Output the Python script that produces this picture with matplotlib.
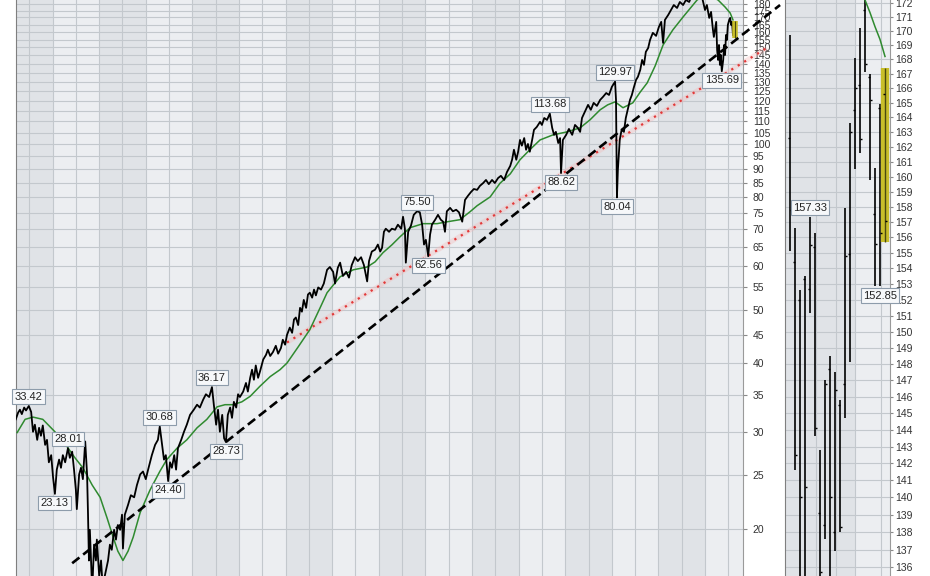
import matplotlib
matplotlib.use("Agg")
import matplotlib.pyplot as plt
import numpy as np

plt.rcParams["font.family"] = ["Liberation Sans", "DejaVu Sans"]

# ---- long-term panel: price path (decimal year, price) ----
price_t = [2007.21, 2007.26, 2007.30, 2007.34, 2007.39, 2007.43, 2007.49, 2007.54, 2007.58, 2007.62,
           2007.67, 2007.71, 2007.75, 2007.79, 2007.84, 2007.88, 2007.92, 2007.97, 2008.01, 2008.05,
           2008.09, 2008.14, 2008.18, 2008.22, 2008.27, 2008.33, 2008.37, 2008.42, 2008.46, 2008.50,
           2008.52, 2008.57, 2008.61, 2008.65, 2008.70, 2008.74, 2008.76, 2008.78, 2008.80, 2008.85,
           2008.89, 2008.93, 2008.95, 2009.00, 2009.04, 2009.08, 2009.12, 2009.19, 2009.23, 2009.27,
           2009.32, 2009.36, 2009.40, 2009.45, 2009.49, 2009.51, 2009.55, 2009.62, 2009.68, 2009.75,
           2009.81, 2009.88, 2009.94, 2010.00, 2010.05, 2010.13, 2010.20, 2010.26, 2010.30, 2010.35,
           2010.39, 2010.43, 2010.48, 2010.52, 2010.56, 2010.61, 2010.65, 2010.69, 2010.76, 2010.82,
           2010.88, 2010.95, 2011.03, 2011.10, 2011.16, 2011.23, 2011.29, 2011.36, 2011.42, 2011.46,
           2011.51, 2011.55, 2011.59, 2011.64, 2011.68, 2011.72, 2011.76, 2011.81, 2011.85, 2011.89,
           2011.94, 2011.98, 2012.02, 2012.09, 2012.15, 2012.19, 2012.24, 2012.28, 2012.32, 2012.36,
           2012.41, 2012.45, 2012.52, 2012.58, 2012.62, 2012.67, 2012.73, 2012.79, 2012.84, 2012.90,
           2012.94, 2012.99, 2013.03, 2013.09, 2013.14, 2013.18, 2013.22, 2013.27, 2013.31, 2013.35,
           2013.39, 2013.44, 2013.48, 2013.52, 2013.57, 2013.61, 2013.65, 2013.70, 2013.76, 2013.82,
           2013.89, 2013.95, 2014.02, 2014.06, 2014.12, 2014.17, 2014.23, 2014.30, 2014.36, 2014.42,
           2014.49, 2014.55, 2014.62, 2014.68, 2014.75, 2014.79, 2014.85, 2014.92, 2014.98, 2015.03,
           2015.07, 2015.11, 2015.15, 2015.22, 2015.28, 2015.35, 2015.41, 2015.48, 2015.52, 2015.56,
           2015.58, 2015.63, 2015.69, 2015.75, 2015.82, 2015.88, 2015.93, 2015.97, 2016.01, 2016.06,
           2016.10, 2016.14, 2016.21, 2016.27, 2016.33, 2016.38, 2016.42, 2016.46, 2016.53, 2016.59,
           2016.66, 2016.72, 2016.79, 2016.85, 2016.91, 2016.98, 2017.04, 2017.11, 2017.17, 2017.24,
           2017.30, 2017.36, 2017.43, 2017.49, 2017.56, 2017.62, 2017.69, 2017.75, 2017.82, 2017.86,
           2017.90, 2017.95, 2017.99, 2018.03, 2018.07, 2018.12, 2018.16, 2018.20, 2018.24, 2018.29,
           2018.33, 2018.39, 2018.46, 2018.50, 2018.55, 2018.61, 2018.67, 2018.72, 2018.76, 2018.80,
           2018.85, 2018.89, 2018.91, 2018.95, 2019.02, 2019.08, 2019.15, 2019.21, 2019.27, 2019.32,
           2019.36, 2019.42, 2019.49, 2019.55, 2019.61, 2019.68, 2019.75, 2019.81, 2019.88, 2019.94,
           2020.00, 2020.07, 2020.09, 2020.11, 2020.13, 2020.17, 2020.21, 2020.26, 2020.30, 2020.34,
           2020.39, 2020.43, 2020.47, 2020.52, 2020.56, 2020.61, 2020.65, 2020.69, 2020.73, 2020.78,
           2020.82, 2020.88, 2020.95, 2021.01, 2021.06, 2021.10, 2021.14, 2021.21, 2021.27, 2021.33,
           2021.40, 2021.46, 2021.53, 2021.59, 2021.66, 2021.72, 2021.79, 2021.85, 2021.91, 2021.96,
           2022.00, 2022.04, 2022.09, 2022.13, 2022.17, 2022.19, 2022.24, 2022.26, 2022.28, 2022.30,
           2022.32, 2022.34, 2022.36, 2022.39, 2022.41, 2022.43, 2022.45, 2022.47, 2022.49, 2022.52,
           2022.54, 2022.56, 2022.58, 2022.60]
price_v = [31.6, 32.5, 32.9, 32.3, 33.2, 32.8, 33.42, 32.6, 30.0, 30.9,
           29.0, 30.5, 29.5, 30.8, 28.4, 29.0, 26.4, 27.2, 24.8, 23.13,
           25.6, 26.7, 25.8, 27.2, 26.4, 28.01, 26.9, 27.6, 25.6, 23.5,
           21.7, 25.1, 25.8, 24.6, 28.8, 25.1, 21.3, 17.5, 19.9, 15.4,
           18.7, 17.5, 19.1, 16.4, 17.5, 15.4, 16.4, 17.5, 18.7, 18.3,
           19.9, 19.1, 20.3, 19.9, 21.2, 18.4, 21.2, 22.1, 23.0, 22.8,
           24.0, 25.1, 25.4, 24.6, 25.6, 27.2, 28.4, 29.0, 30.68, 28.4,
           26.7, 27.2, 24.40, 26.4, 25.8, 27.2, 25.6, 28.0, 29.0, 30.0,
           30.9, 32.2, 32.9, 33.6, 33.2, 34.3, 35.1, 34.7, 36.17, 33.6,
           30.9, 32.9, 30.0, 32.2, 29.2, 28.73, 32.2, 33.2, 31.8, 34.0,
           33.2, 35.1, 34.7, 35.5, 36.8, 35.5, 37.6, 38.9, 37.3, 39.6,
           37.6, 38.6, 40.6, 41.4, 42.3, 41.2, 41.9, 43.0, 41.6, 42.6,
           44.1, 43.2, 45.0, 46.4, 45.4, 48.0, 48.4, 46.9, 50.4, 49.6,
           52.1, 50.4, 53.3, 53.7, 52.6, 54.4, 53.1, 54.9, 54.4, 55.8,
           59.1, 59.8, 58.6, 55.8, 59.6, 60.9, 57.6, 58.6, 57.2, 60.3,
           62.3, 61.3, 62.3, 60.3, 56.3, 61.3, 63.8, 64.3, 65.7, 63.8,
           64.8, 69.3, 70.2, 69.3, 70.2, 69.9, 71.4, 70.2, 73.8, 70.2,
           60.9, 69.3, 71.1, 74.4, 75.50, 75.2, 71.4, 65.7, 67.0, 62.56,
           68.5, 71.4, 72.9, 74.4, 72.9, 72.3, 69.3, 75.5, 76.6, 75.5,
           76.0, 75.2, 72.3, 79.2, 80.5, 81.9, 82.9, 82.6, 84.0, 85.0,
           86.1, 84.6, 86.1, 85.0, 86.8, 87.6, 86.1, 89.0, 91.3, 93.7,
           97.7, 93.7, 96.9, 101.8, 99.4, 102.6, 97.7, 100.1, 96.9, 101.8,
           106.2, 107.5, 109.8, 108.4, 111.6, 110.7, 113.68, 107.1, 104.0, 105.3,
           100.5, 102.6, 88.62, 101.8, 104.0, 106.6, 104.0, 108.4, 107.1, 105.3,
           111.6, 114.5, 117.9, 115.5, 118.9, 117.4, 120.4, 121.9, 123.9, 122.9,
           127.1, 129.97, 120.4, 80.04, 89.8, 101.8, 106.2, 105.3, 111.6, 115.5,
           120.4, 122.9, 126.6, 130.9, 132.6, 136.5, 142.3, 139.4, 147.2, 149.6,
           154.7, 159.4, 157.4, 163.4, 166.9, 152.8, 168.3, 171.8, 175.4, 179.1,
           176.9, 181.4, 179.1, 182.9, 181.4, 186.8, 190.7, 186.8, 189.1, 181.4,
           175.4, 179.1, 169.7, 174.0, 161.4, 156.7, 166.9, 148.4, 142.3, 151.5,
           139.4, 145.3, 135.69, 142.3, 151.5, 145.3, 158.0, 154.7, 164.8, 168.3,
           169.7, 164.8, 166.9, 158.0]

# moving average
ma_t = [2007.24, 2007.41, 2007.58, 2007.79, 2008.05, 2008.31, 2008.48, 2008.65, 2008.85, 2009.02,
        2009.17, 2009.30, 2009.40, 2009.51, 2009.62, 2009.73, 2009.88, 2010.09, 2010.30, 2010.45,
        2010.67, 2010.88, 2011.10, 2011.31, 2011.53, 2011.70, 2011.87, 2012.06, 2012.24, 2012.45,
        2012.67, 2012.88, 2013.03, 2013.27, 2013.52, 2013.74, 2013.89, 2014.02, 2014.17, 2014.45,
        2014.75, 2014.92, 2015.09, 2015.28, 2015.45, 2015.67, 2015.95, 2016.25, 2016.48, 2016.74,
        2016.96, 2017.11, 2017.39, 2017.60, 2017.82, 2018.03, 2018.24, 2018.46, 2018.74, 2019.04,
        2019.32, 2019.53, 2019.75, 2019.91, 2020.07, 2020.24, 2020.45, 2020.61, 2020.76, 2020.93,
        2021.10, 2021.31, 2021.53, 2021.83, 2022.00, 2022.15, 2022.28, 2022.43, 2022.54, 2022.60]
ma_v = [29.9, 31.6, 31.9, 31.6, 30.0, 28.2, 26.9, 25.8, 24.0, 22.8,
        20.9, 19.3, 18.2, 17.5, 18.2, 19.3, 21.4, 23.5, 25.4, 26.7,
        28.0, 29.0, 30.5, 31.6, 33.3, 33.6, 33.6, 34.0, 34.8, 36.3,
        37.8, 38.9, 40.0, 42.8, 46.0, 50.4, 53.7, 55.4, 57.4, 59.1,
        59.8, 61.1, 63.5, 65.6, 67.8, 70.5, 71.7, 71.7, 72.3, 72.9,
        75.4, 77.3, 80.2, 84.9, 88.3, 93.7, 97.7, 101.8, 104.0, 105.3,
        107.1, 110.7, 115.5, 117.9, 119.4, 116.5, 118.9, 124.4, 129.3, 138.8,
        151.5, 161.4, 170.4, 182.9, 186.8, 185.3, 182.9, 177.6, 173.2, 168.3]

# trend lines (two anchor points each)
support_t = [2008.42, 2023.61]
support_v = [17.3, 179.1]
channel_t = [2013.03, 2023.33]
channel_v = [43.6, 149.7]

# swing labels: (year, price, above?)
swing_t = [2007.49, 2008.33, 2008.05, 2010.30, 2010.48, 2011.42, 2011.72, 2015.82, 2016.06,
           2018.67, 2018.91, 2020.07, 2020.11, 2022.36]
swing_v = [33.42, 28.01, 23.13, 30.68, 24.40, 36.17, 28.73, 75.50, 62.56,
           113.68, 88.62, 129.97, 80.04, 135.69]
swing_up = [True, True, False, True, False, True, False, True, False,
            True, False, True, False, False]

last_t = 2022.64

# ---- short-term panel: daily OHLC ----
bar_open = [162.6, 154.4, 152.0, 153.3, 152.7, 155.4, 139.1, 138.4, 147.7, 138.0,
            145.5, 146.8, 154.9, 164.5, 166.2, 171.5, 166.8, 157.5, 164.6, 165.6]
bar_high = [169.7, 156.6, 152.6, 153.5, 157.33, 156.3, 142.8, 147.0, 148.5, 147.5,
            145.8, 157.9, 163.6, 168.1, 170.2, 173.5, 167.0, 160.6, 164.9, 167.4]
bar_low = [155.1, 141.6, 134.8, 134.8, 151.2, 143.6, 134.8, 137.6, 134.8, 136.9,
           138.0, 144.7, 148.1, 160.5, 161.6, 167.1, 159.8, 152.9, 152.85, 155.7]
bar_close = [157.8, 142.5, 140.0, 140.6, 155.5, 144.1, 135.7, 146.8, 140.0, 146.4,
             138.3, 154.8, 163.0, 166.0, 162.5, 167.7, 165.2, 155.6, 156.3, 157.1]
bar_ma_idx = [14, 15, 16, 17, 18, 19]
bar_ma_v = [173.4, 172.2, 171.3, 170.3, 169.4, 168.2]

DARK = "#e0e3e7"
LIGHT = "#eceef1"
GRID = "#c3c8cd"
TXT = "#333333"


def tag(ax, x, y, text, above):
    ax.annotate(text, (x, y), xytext=(0, 3 if above else -3), textcoords="offset points",
                ha="center", va="bottom" if above else "top", fontsize=8, color="#222222",
                bbox=dict(boxstyle="square,pad=0.22", fc="#f6f8fa", ec="#8d9cab", lw=0.8),
                annotation_clip=False, zorder=6)


fig = plt.figure(figsize=(9.3, 5.76), dpi=100)
ax = fig.add_axes([16 / 930, 0, 727 / 930, 1])
ax2 = fig.add_axes([785 / 930, 0, 105 / 930, 1])

# left panel
ax.set_yscale("log")
ax.set_xlim(2007.215, 2022.815)
ax.set_ylim(16.4, 182.9)
for yr in range(2007, 2023):
    ax.axvspan(yr, yr + 1, color=DARK if yr % 2 else LIGHT, lw=0, zorder=0)
for g in np.arange(2007.5, 2023, 0.5):
    ax.axvline(g, color=GRID, lw=0.8, zorder=1)
ticks = list(range(20, 185, 5))
for tk in ticks:
    ax.axhline(tk, color=GRID, lw=0.8, zorder=1)
ax.set_yticks(ticks)
ax.set_yticklabels([str(t) for t in ticks])
ax.minorticks_off()
ax.yaxis.tick_right()
ax.tick_params(axis="y", which="both", length=3, pad=4, color="#8a8a8a",
               labelsize=7.5, labelcolor=TXT)
ax.set_xticks([])
for side in ["top", "bottom"]:
    ax.spines[side].set_visible(False)
ax.spines["left"].set_color("#7f7f7f")
ax.spines["right"].set_color("#9a9a9a")

ax.plot(channel_t, channel_v, color="#f4b8b8", lw=3.5, alpha=0.35, zorder=2,
        solid_capstyle="butt", clip_on=False)
ax.plot(channel_t, channel_v, color="#e23a3a", lw=1.6, ls=(0, (1, 2.4)), zorder=3,
        clip_on=False)
ax.plot(ma_t, ma_v, color="#2f8a2f", lw=1.1, zorder=3)
ax.plot(price_t, price_v, color="black", lw=1.3, zorder=4)
ax.plot(support_t, support_v, color="black", lw=1.9, ls=(0, (3.5, 1.8)), zorder=5,
        clip_on=False)
ax.vlines(last_t, bar_low[-1], bar_high[-1], color="#c8be2a", lw=4, zorder=4)
ax.vlines(last_t, bar_low[-1], bar_high[-1], color="#4a4a10", lw=0.8, zorder=4)

for t, v, up in zip(swing_t, swing_v, swing_up):
    tag(ax, t, v, f"{v:.2f}", up)

# right panel
ax2.set_yscale("log")
ax2.set_xlim(-1, 20)
ax2.set_ylim(135.5, 172.2)
ax2.axvspan(-1, 13, color=DARK, lw=0, zorder=0)
ax2.axvspan(13, 20, color=LIGHT, lw=0, zorder=0)
for g in [5.2, 9.2, 13.0, 18.2]:
    ax2.axvline(g, color=GRID, lw=0.8, zorder=1)
ticks2 = list(range(136, 173))
for tk in ticks2:
    ax2.axhline(tk, color=GRID, lw=0.8, zorder=1)
ax2.set_yticks(ticks2)
ax2.set_yticklabels([str(t) for t in ticks2])
ax2.minorticks_off()
ax2.yaxis.tick_right()
ax2.tick_params(axis="y", which="both", length=2, pad=2, color="#8a8a8a",
                labelsize=7.5, labelcolor=TXT)
ax2.set_xticks([])
for side in ["top", "bottom"]:
    ax2.spines[side].set_visible(False)
ax2.spines["left"].set_color("#7f7f7f")
ax2.spines["right"].set_color("#9a9a9a")

n = len(bar_open)
for i in range(n):
    if i == n - 1:
        ax2.vlines(i, bar_low[i], bar_high[i], color="#c8be2a", lw=6, zorder=3)
        ax2.vlines(i, bar_low[i], bar_high[i], color="#4a4a10", lw=1.0, zorder=4)
    else:
        ax2.vlines(i, bar_low[i], bar_high[i], color="black", lw=1.2, zorder=3)
    ax2.hlines(bar_open[i], i - 0.45, i, color="black", lw=1.0, zorder=4)
    ax2.hlines(bar_close[i], i, i + 0.45, color="black", lw=1.0, zorder=4)
ax2.plot(bar_ma_idx, bar_ma_v, color="#2f8a2f", lw=1.1, zorder=5)

tag(ax2, 4, 157.33, "157.33", True)
tag(ax2, 18, 152.85, "152.85", False)

fig.savefig("out.png", dpi=100)
